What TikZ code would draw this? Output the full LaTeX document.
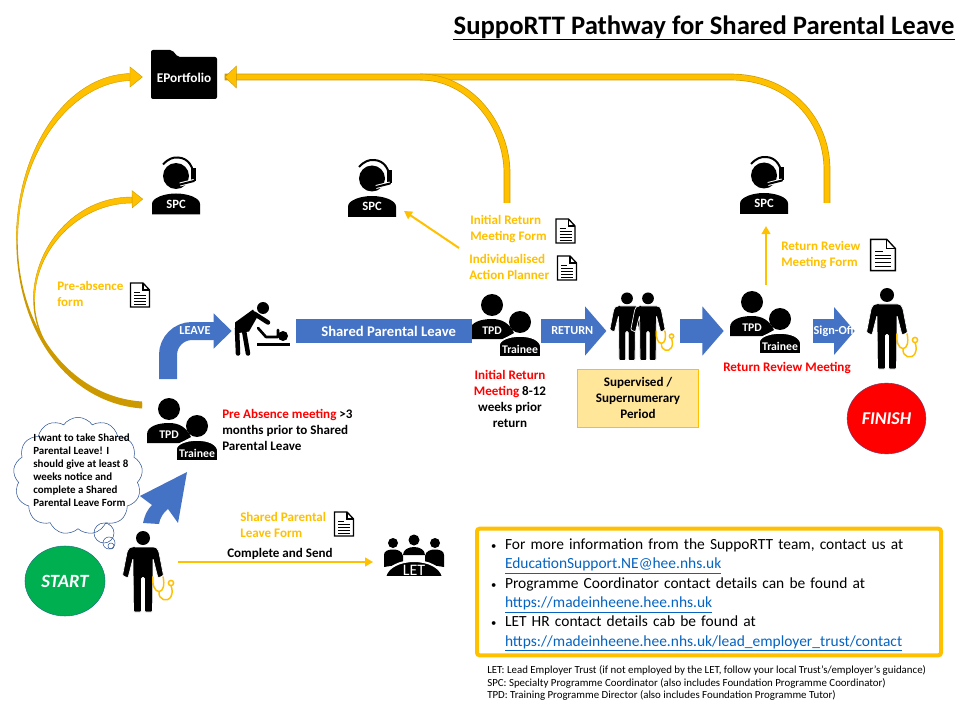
\documentclass[tikz,border=0pt]{standalone}
\usepackage{fontspec}
\setmainfont{Carlito}
\usetikzlibrary{arrows.meta, shapes.symbols, shapes.geometric}

\definecolor{goldfill}{HTML}{FFC000}
\definecolor{goldedge}{HTML}{CC9A00}
\definecolor{blockblue}{HTML}{4472C4}
\definecolor{cloudline}{HTML}{2F5597}
\definecolor{linkblue}{HTML}{0563C1}
\definecolor{paleyellow}{HTML}{FFE699}
\definecolor{startgreen}{HTML}{00B050}

\tikzstyle{goldarc} = [draw=goldfill, line width=4pt, preaction={draw=goldedge, line width=5pt, -}, -{Triangle[length=9pt, width=17pt, color=goldedge, line width=0.3pt, fill=goldfill]}]
\tikzstyle{goldtaper} = [draw=goldfill, line width=0.7pt, -{Triangle[length=#1*0.62pt, width=#1pt, color=goldedge, line width=0.3pt, fill=goldfill]}]
\tikzstyle{goldarrow} = [draw=goldfill, line width=1.5pt, -{Triangle[length=6pt, width=6.5pt]}]
\tikzstyle{bluearrow} = [draw=blockblue, line width=18pt, -{Triangle[length=16pt, width=36pt]}]
\tikzstyle{goldtext} = [text=goldfill, anchor=west, align=left]
\tikzstyle{blacktext} = [anchor=west, align=left]
\tikzstyle{icontext} = [text=white, font=\bfseries\fontsize{8.8}{10}\selectfont]
\tikzstyle{bluetext} = [text=white, font=\bfseries\fontsize{9.2}{10}\selectfont]
\tikzstyle{iconbox} = [minimum width=#1*0.75pt, inner sep=0pt]

\tikzset{
  % SPC with headset
  spcicon/.pic={
    \fill (0,-23) circle[radius=13];
    \draw [line width=1.5pt] (-13,-34.5) .. controls (-8,-40) and (-3,-42) .. (2,-41.5) .. controls (12,-41) and (18,-33) .. (18,-19);
    \fill (15,-31) rectangle (20,-18);
    \draw [white, line width=3pt] (18,-18) -- (4,-14.5);
    \draw [line width=1.5pt, line cap=round] (18,-18) -- (4,-14.5);
    \fill (-24,15.5) -- (-24,5) .. controls (-24,-1) and (-12,-5.5) .. (0,-5.5) .. controls (12,-5.5) and (24,-1) .. (24,5) -- (24,15.5) -- cycle;
    \node [icontext, font=\bfseries\fontsize{9.5}{10}\selectfont] (-label) at (0,5) {SPC};
  },
  % TPD and trainee together
  pairicon/.pic={
    \fill (-13.5,-20.5) circle[radius=11];
    \fill (-35.5,13.5) -- (-35.5,5) .. controls (-35.5,-3) and (-25,-6.5) .. (-13.5,-6.5) .. controls (-3,-6.5) and (4,-2) .. (8.5,7.5) -- (-2.5,13.5) -- cycle;
    \fill (14.5,-3.5) circle[radius=11];
    \draw [white, line width=1.2pt, fill=black] (-6.5,31.5) -- (-6.5,20) .. controls (-6.5,14) and (4,10.5) .. (14.5,10.5) .. controls (25,10.5) and (35.5,14) .. (35.5,22) -- (35.5,31.5) -- cycle;
    \node [icontext] (-tpd) at (-13.5,5.5) {TPD};
    \node [icontext] (-trainee) at (14.5,23.5) {Trainee};
  },
  personicon/.pic={
    \fill (0,-33.5) circle[radius=7];
    \draw [fill=black, draw=white, line width=0.5pt, rounded corners=0.8pt] (-9,-24.5) -- (9,-24.5) .. controls (14,-24.5) and (15,-22) .. (16,-19) -- (20.5,4) -- (15,6.5) -- (10,-13) -- (9.5,40.5) -- (1.5,40.5) -- (1.5,6) -- (-1.5,6) -- (-1.5,40.5) -- (-9.5,40.5) -- (-10,-13) -- (-15,6.5) -- (-20.5,4) -- (-16,-19) .. controls (-15,-22) and (-14,-24.5) .. (-9,-24.5) -- cycle;
  },
  stethicon/.pic={
    \draw [goldfill, line width=1.1pt] (10,5) .. controls (9,14) and (12,20) .. (16,20) .. controls (20,20) and (22,14) .. (20,5);
    \draw [goldfill, line width=1.1pt] (16,20) .. controls (15,29) and (25,31) .. (28,25) .. controls (30,21) and (29,17) .. (28,14);
    \draw [goldfill, line width=1.1pt, fill=white] (28,11.5) circle[radius=2.6];
  },
  docicon/.pic={
    \draw [fill=white, line width=1pt] (-9.5,-12) -- (3,-12) -- (9.5,-5) -- (9.5,12) -- (-9.5,12) -- cycle;
    \draw [line width=0.8pt] (3,-12) -- (3,-5) -- (9.5,-5);
    \draw [line width=0.7pt] (-6,-3) -- (0,-3) (-6,0) -- (6,0) (-6,3) -- (6,3) (-6,6) -- (6,6) (-6,9) -- (6,9);
  },
  foldericon/.pic={
    \fill [rounded corners=1.5pt] (-33,22) -- (-33,-27) -- (-12,-27) -- (-6,-20) -- (33,-20) -- (33,22) -- cycle;
    \node [text=white, font=\bfseries\fontsize{10}{10}\selectfont] (-label) at (0,1) {EPortfolio};
  },
  leticon/.pic={
    \fill (-21,-13) circle[radius=5];
    \fill (0,-16) circle[radius=5.5];
    \fill (21,-13) circle[radius=5];
    \fill (-30,11) -- (-30,-1) .. controls (-30,-5) and (-26,-6.5) .. (-21,-6.5) .. controls (-16,-6.5) and (-12,-5) .. (-11,0) -- (-11,8) -- cycle;
    \fill (30,11) -- (30,-1) .. controls (30,-5) and (26,-6.5) .. (21,-6.5) .. controls (16,-6.5) and (12,-5) .. (11,0) -- (11,8) -- cycle;
    \fill (-11,-1) .. controls (-11,-6) and (-6,-9) .. (0,-9) .. controls (6,-9) and (11,-6) .. (11,-1) -- cycle;
    \draw [white, line width=1.5pt, fill=black] (-29,21) .. controls (-27,11) and (-14,5) .. (0,5) .. controls (14,5) and (27,11) .. (29,21) -- cycle;
    \node [text=white, font=\fontsize{12}{12}\selectfont] (-label) at (0,14) {LET};
  },
  babyicon/.pic={
    \fill (1,-20.5) circle[radius=6];
    \draw [line width=3.4pt, line cap=round, line join=round] (-8,-15) -- (6,-6);
    \fill (-27,-6) -- (-9,-19) -- (-5,-11) -- (-13,3) -- (-27,5) -- cycle;
    \draw [line width=3.4pt, line cap=round, line join=round] (-25,0) -- (-24,25);
    \draw [line width=3.4pt, line cap=round, line join=round] (-18,2) -- (-14,25);
    \draw [line width=2pt, line cap=round, line join=round] (-4,-0.5) -- (4,8.5) -- (16,8.5) -- (16,1.5);
    \fill (21,7.5) circle[radius=5];
    \draw [line width=2.4pt] (-5,16) -- (28,16);
  }
}

\begin{document}
\begin{tikzpicture}[x=0.75pt, y=-0.75pt, every node/.style={font=\bfseries\fontsize{9.8}{12}\selectfont, inner sep=0pt}]
\useasboundingbox (0,0) rectangle (960,720);

\node [anchor=base, font=\bfseries\fontsize{20}{24}\selectfont] (title) at (704,35) {SuppoRTT Pathway for Shared Parental Leave};
\draw [line width=1.1pt] ([yshift=-3.2pt]title.base west) -- ([yshift=-3.2pt]title.base east);

% Icons
\node (eportfolio) at (184,77) [iconbox=66, minimum height=31.5pt] {};
\pic (eportfolio) at (eportfolio) {foldericon};
\node (spcA) at (176,199) [iconbox=48, minimum height=23pt] {};
\pic (spcA) at (spcA) {spcicon};
\node (spcB) at (372,201.5) [iconbox=48, minimum height=23pt] {};
\pic (spcB) at (spcB) {spcicon};
\node (spcC) at (764,198.5) [iconbox=48, minimum height=23pt] {};
\pic (spcC) at (spcC) {spcicon};
\node (pairA) at (182.5,429.5) [iconbox=71, minimum height=47pt] {};
\pic (pairA) at (pairA) {pairicon};
\node (pairB) at (505.5,325.5) [iconbox=71, minimum height=47pt] {};
\pic (pairB) at (pairB) {pairicon};
\node (pairC) at (765.5,322.5) [iconbox=71, minimum height=47pt] {};
\pic (pairC) at (pairC) {pairicon};
\node (baby) at (262,328.5) [iconbox=56, minimum height=40pt] {};
\pic at (baby) {babyicon};
\node (doctorA) at (143,571.5) [iconbox=40, minimum height=61pt] {};
\pic at (doctorA) {personicon};
\pic at (doctorA) {stethicon};
\node (doctorB) at (887,328.5) [iconbox=40, minimum height=61pt] {};
\pic at (doctorB) {personicon};
\pic at (doctorB) {stethicon};
\node (people) at (646,326.5) [iconbox=68, minimum height=52pt] {};
\pic [scale=.84] at (627,326.5) {personicon};
\pic [scale=.84] at (648,326.5) {personicon};
\pic [scale=.84] at (648,326.5) {stethicon};
\node (let) at (414,556) [iconbox=60, minimum height=31.5pt] {};
\pic (let) at (let) {leticon};

% Form icons
\pic at (140,295) {docicon};
\pic at (565.5,231) {docicon};
\pic at (567,268) {docicon};
\pic at (344,524) {docicon};
\pic [scale=1.3] at (883,255) {docicon};

% Free ends of connectors
\coordinate (pairAout) at (142,405);
\coordinate (leavefoot) at (168,379);
\coordinate (initialform) at (507,203);
\coordinate (reviewform) at (827,203);
\coordinate (plannerout) at (459,248);
\coordinate (reviewstart) at (766,285);
\coordinate (sendstart) at (178,562);

% Blue arrows
\node (sharedbar) at (384,331) [fill=blockblue, minimum width=132pt, minimum height=18.5pt, text=white, font=\bfseries\fontsize{11}{12}\selectfont] {\hspace*{7pt}Shared Parental Leave};
\draw [bluearrow, line width=13.5pt, -{Triangle[length=13.5pt, width=25.5pt]}, rounded corners=18pt, shorten >=1.5pt] (leavefoot) |- (baby.west |- sharedbar);
\node [bluetext] (leavelabel) at (195,331) {LEAVE};
\draw [bluearrow, shorten >=4pt] (pairB.east |- sharedbar) -- node [bluetext, pos=.44] (returnlabel) {RETURN} (people.west |- sharedbar);
\draw [bluearrow, shorten >=4.5pt] (people.east |- sharedbar) -- (pairC.west |- sharedbar);
\draw [bluearrow, -{Triangle[length=15.5pt, width=35pt]}, shorten <=9pt, shorten >=9pt] (pairC.east |- sharedbar) -- node [bluetext] (signofflabel) {Sign-Off} (doctorB.west |- sharedbar);
\fill [blockblue] (143,523) .. controls (145,514) and (148,509) .. (152,505) -- (140,496) -- (187,472) -- (178,523) -- (168,509) .. controls (163,513) and (160,518) .. (159,524) -- cycle;

% Gold arrows, tapering to the middle
\fill [goldfill, draw=goldedge, line width=0.3pt] (16.3,240) .. controls (16.3,148) and (68,73.5) .. (132,73.5) -- (132,80.5) .. controls (72,81) and (17.7,152) .. (17.7,240) -- cycle;
\fill [goldfill, draw=goldedge, line width=0.3pt] (33.3,300) .. controls (33.3,248) and (74,197) .. (132,197) -- (132,203) .. controls (76,203.5) and (34.7,252) .. (34.7,300) -- cycle;
\draw [goldtaper=15.7, shorten >=6pt] (17,240) .. controls (17,150) and (70,77) .. (eportfolio.west);
\draw [goldtaper=13.5, shorten >=6.5pt] (34,300) .. controls (34,250) and (75,200) .. (spcA.west);
\fill [goldedge] (16.3,240) .. controls (16.3,332) and (68,403) .. (142,408.5) -- (142,401.5) .. controls (72,397) and (17.7,330) .. (17.7,240) -- cycle;
\fill [goldedge] (33.3,300) .. controls (33.3,345) and (70,398) .. (142,407) -- (142,403) .. controls (72,394) and (34.7,345) .. (34.7,300) -- cycle;
\draw [goldarc, -] (reviewform) -- (827,170) .. controls (827,120) and (790,77) .. (730,77) -- (420,77);
\draw [goldarc, shorten >=5.5pt] (initialform) -- (507,173) .. controls (507,125) and (470,77) .. (420,77) -- (eportfolio.east);
\draw [goldarrow, shorten >=7pt] (plannerout) -- (spcB.-10);
\draw [goldarrow, shorten >=9pt] (reviewstart) -- (reviewstart |- spcC.south);
\draw [goldarrow, shorten >=8pt] (sendstart) -- (let.west |- sendstart);

% Text
\node [goldtext] (preform) at (57,293.5) {Pre-absence\\form};
\node [goldtext] (initialmeetingform) at (470,229) {Initial Return\\Meeting Form};
\node [goldtext] (plannerform) at (469,267) {Individualised\\Action Planner};
\node [goldtext] (reviewmeetingform) at (781,255) {Return Review\\Meeting Form};
\node [goldtext] (leaveform) at (240,525) {Shared Parental\\Leave Form};
\node [blacktext] (sendlabel) at (227,554) {Complete and Send};
\node [blacktext] (preabsence) at (222,430) {\textcolor{red}{Pre Absence meeting} >3\\months prior to Shared\\Parental Leave};
\node [align=center] (initialmeeting) at (510,399) {\textcolor{red}{Initial Return}\\\textcolor{red}{Meeting} 8-12\\weeks prior\\return};
\node [text=red] (reviewmeeting) at (787,368) {Return Review Meeting};
\node [draw=goldfill, fill=paleyellow, align=center, minimum width=91pt, minimum height=43.5pt] (supervised) at (638,398) {Supervised /\\Supernumerary\\Period};

% Start and finish
\node [ellipse, fill=startgreen, draw=cloudline!60!startgreen, minimum width=60pt, minimum height=52.5pt, text=white, font=\bfseries\itshape\fontsize{14}{16}\selectfont] (start) at (65,581) {START};
\node [ellipse, fill=red, draw=cloudline!60!red, minimum width=59pt, minimum height=53pt, text=white, font=\bfseries\itshape\fontsize{13.5}{16}\selectfont] (finish) at (886.5,418.5) {FINISH};

% Thought
\node [cloud, cloud puffs=13, cloud puff arc=110, draw=cloudline, minimum width=97pt, minimum height=88pt] (thought) at (78,476) {};
\node [draw=cloudline, circle, minimum size=15pt] (bubbleA) at (104,533) {};
\node [draw=cloudline, circle, minimum size=9pt] (bubbleB) at (109,543) {};
\node [draw=cloudline, circle, minimum size=4.5pt] (bubbleC) at (111,546) {};
\node [blacktext, font=\bfseries\fontsize{8.2}{9.7}\selectfont] (thoughttext) at (33,470.5) {I want to take Shared\\Parental Leave! I\\should give at least 8\\weeks notice and\\complete a Shared\\Parental Leave Form};

% Contact details
\node [draw=goldfill, line width=3pt, rounded corners=2pt, minimum width=348pt, minimum height=95pt, inner xsep=10.5pt, text width=327pt, align=left, font=\fontsize{11.6}{14.5}\selectfont] (contact) at (709,592) {
\rule{0pt}{12.5pt}\makebox[10.5pt][l]{\fontsize{8}{8}\selectfont\textbullet}For more information from the SuppoRTT team, contact us at\\
\hspace*{10.5pt}\textcolor{linkblue}{\underline{EducationSupport.NE@hee.nhs.uk}}\\
\makebox[10.5pt][l]{\fontsize{8}{8}\selectfont\textbullet}Programme Coordinator contact details can be found at\\
\hspace*{10.5pt}\textcolor{linkblue}{\underline{https://madeinheene.hee.nhs.uk}}\\
\makebox[10.5pt][l]{\fontsize{8}{8}\selectfont\textbullet}LET HR contact details cab be found at\\
\hspace*{10.5pt}\textcolor{linkblue}{\underline{https://madeinheene.hee.nhs.uk/lead\_employer\_trust/contact}}};

\node [blacktext, font=\fontsize{8.15}{9.7}\selectfont] (legend) at (487,683) {LET: Lead Employer Trust (if not employed by the LET, follow your local Trust's/employer's guidance)\\SPC: Specialty Programme Coordinator (also includes Foundation Programme Coordinator)\\TPD: Training Programme Director (also includes Foundation Programme Tutor)};

\end{tikzpicture}
\end{document}
